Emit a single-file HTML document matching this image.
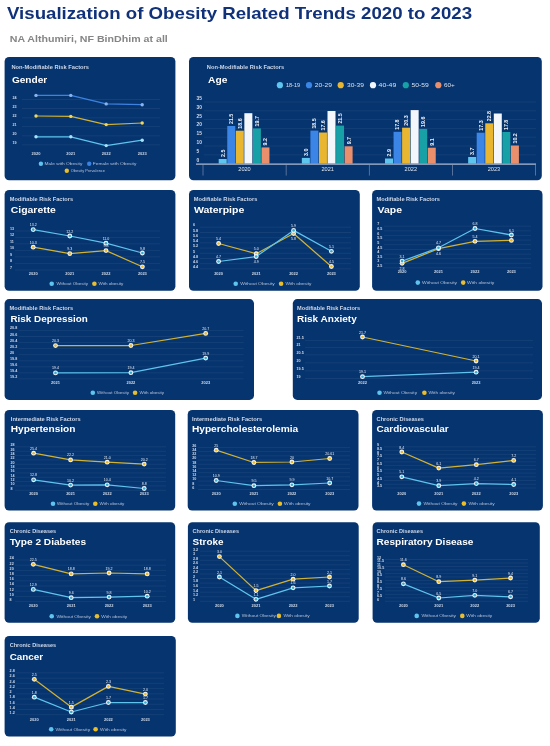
<!DOCTYPE html>
<html><head><meta charset="utf-8"><title>Visualization of Obesity Related Trends 2020 to 2023</title>
<style>html,body{margin:0;padding:0;background:#fff;width:550px;height:746px;overflow:hidden;font-family:"Liberation Sans",sans-serif}svg{display:block;will-change:transform}</style>
</head><body>
<svg width="550" height="746" viewBox="0 0 550 746" font-family="&quot;Liberation Sans&quot;, sans-serif">
<rect width="550" height="746" fill="#ffffff"/>
<text x="7.00" y="18.60" font-size="16.4" fill="#10327a" font-weight="bold" textLength="465.00" lengthAdjust="spacingAndGlyphs">Visualization of Obesity Related Trends 2020 to 2023</text>
<text x="9.80" y="42.00" font-size="9.6" fill="#858585" font-weight="bold" textLength="158.00" lengthAdjust="spacingAndGlyphs">NA Althumiri, NF BinDhim at all</text>
<rect x="4.6" y="57" width="170.8" height="123.3" rx="4.5" fill="#06346f"/>
<text x="11.40" y="68.90" font-size="5.6" fill="#cdd6e6" font-weight="bold" textLength="77.60" lengthAdjust="spacingAndGlyphs">Non-Modifiable Risk Factors</text>
<text x="11.90" y="82.50" font-size="9.4" fill="#ffffff" font-weight="bold" textLength="35.30" lengthAdjust="spacingAndGlyphs">Gender</text>
<text x="12.50" y="98.55" font-size="3.7" fill="#d0d9e8" font-weight="bold">24</text>
<text x="12.50" y="107.55" font-size="3.7" fill="#d0d9e8" font-weight="bold">23</text>
<text x="12.50" y="116.85" font-size="3.7" fill="#d0d9e8" font-weight="bold">22</text>
<text x="12.50" y="125.85" font-size="3.7" fill="#d0d9e8" font-weight="bold">21</text>
<text x="12.50" y="134.85" font-size="3.7" fill="#d0d9e8" font-weight="bold">20</text>
<text x="12.50" y="143.85" font-size="3.7" fill="#d0d9e8" font-weight="bold">19</text>
<line x1="22" y1="99.50" x2="160" y2="99.50" stroke="rgba(255,255,255,0.10)" stroke-width="0.6"/>
<line x1="22" y1="108.50" x2="160" y2="108.50" stroke="rgba(255,255,255,0.10)" stroke-width="0.6"/>
<line x1="22" y1="117.80" x2="160" y2="117.80" stroke="rgba(255,255,255,0.10)" stroke-width="0.6"/>
<line x1="22" y1="126.60" x2="160" y2="126.60" stroke="rgba(255,255,255,0.10)" stroke-width="0.6"/>
<line x1="22" y1="135.90" x2="160" y2="135.90" stroke="rgba(255,255,255,0.10)" stroke-width="0.6"/>
<line x1="22" y1="144.80" x2="160" y2="144.80" stroke="rgba(255,255,255,0.10)" stroke-width="0.6"/>
<text x="36.00" y="154.95" font-size="4.0" fill="#d0d9e8" font-weight="bold" text-anchor="middle">2020</text>
<text x="70.80" y="154.95" font-size="4.0" fill="#d0d9e8" font-weight="bold" text-anchor="middle">2021</text>
<text x="106.20" y="154.95" font-size="4.0" fill="#d0d9e8" font-weight="bold" text-anchor="middle">2022</text>
<text x="142.20" y="154.95" font-size="4.0" fill="#d0d9e8" font-weight="bold" text-anchor="middle">2023</text>
<path d="M36.00,95.40 L70.80,95.40 L106.20,103.90 L142.20,104.70" fill="none" stroke="#3e82e0" stroke-width="1.2" stroke-linejoin="round"/>
<circle cx="36.00" cy="95.40" r="1.7" fill="#8ab4f0"/>
<circle cx="70.80" cy="95.40" r="1.7" fill="#8ab4f0"/>
<circle cx="106.20" cy="103.90" r="1.7" fill="#8ab4f0"/>
<circle cx="142.20" cy="104.70" r="1.7" fill="#8ab4f0"/>
<path d="M36.00,116.00 L70.80,116.40 L106.20,124.60 L142.20,123.00" fill="none" stroke="#d2b234" stroke-width="1.2" stroke-linejoin="round"/>
<circle cx="36.00" cy="116.00" r="1.7" fill="#f0d860"/>
<circle cx="70.80" cy="116.40" r="1.7" fill="#f0d860"/>
<circle cx="106.20" cy="124.60" r="1.7" fill="#f0d860"/>
<circle cx="142.20" cy="123.00" r="1.7" fill="#f0d860"/>
<path d="M36.00,136.80 L70.80,136.80 L106.20,145.60 L142.20,140.20" fill="none" stroke="#5ec4ee" stroke-width="1.2" stroke-linejoin="round"/>
<circle cx="36.00" cy="136.80" r="1.7" fill="#a8e2f8"/>
<circle cx="70.80" cy="136.80" r="1.7" fill="#a8e2f8"/>
<circle cx="106.20" cy="145.60" r="1.7" fill="#a8e2f8"/>
<circle cx="142.20" cy="140.20" r="1.7" fill="#a8e2f8"/>
<circle cx="40.90" cy="163.80" r="2.2" fill="#5ec4ee"/>
<text x="44.60" y="165.35" font-size="4.3" fill="#b4c0d6" textLength="37.70" lengthAdjust="spacingAndGlyphs">Male with Obesity</text>
<circle cx="89.20" cy="163.80" r="2.2" fill="#3e82e0"/>
<text x="92.80" y="165.35" font-size="4.3" fill="#b4c0d6" textLength="43.50" lengthAdjust="spacingAndGlyphs">Female with Obesity</text>
<circle cx="66.80" cy="170.70" r="2.2" fill="#e9bd2b"/>
<text x="70.80" y="172.25" font-size="4.3" fill="#b4c0d6" textLength="34.20" lengthAdjust="spacingAndGlyphs">Obesity Prevalence</text>
<rect x="189" y="57" width="352.8" height="123.3" rx="4.5" fill="#06346f"/>
<text x="206.80" y="68.90" font-size="5.6" fill="#cdd6e6" font-weight="bold" textLength="77.30" lengthAdjust="spacingAndGlyphs">Non-Modifiable Risk Factors</text>
<text x="208.10" y="82.50" font-size="9.4" fill="#ffffff" font-weight="bold" textLength="19.30" lengthAdjust="spacingAndGlyphs">Age</text>
<circle cx="279.90" cy="85.20" r="3.1" fill="#5ec6ee"/>
<text x="285.90" y="86.75" font-size="5.6" fill="#d8e0ec" textLength="14.20" lengthAdjust="spacingAndGlyphs">18-19</text>
<circle cx="309.00" cy="85.20" r="3.1" fill="#3a85e6"/>
<text x="314.80" y="86.75" font-size="5.6" fill="#d8e0ec" textLength="17.10" lengthAdjust="spacingAndGlyphs">20-29</text>
<circle cx="340.70" cy="85.20" r="3.1" fill="#e8b631"/>
<text x="347.00" y="86.75" font-size="5.6" fill="#d8e0ec" textLength="16.90" lengthAdjust="spacingAndGlyphs">30-39</text>
<circle cx="373.00" cy="85.20" r="3.1" fill="#f3f6fa"/>
<text x="378.60" y="86.75" font-size="5.6" fill="#d8e0ec" textLength="17.70" lengthAdjust="spacingAndGlyphs">40-49</text>
<circle cx="405.80" cy="85.20" r="3.1" fill="#17a0a6"/>
<text x="411.50" y="86.75" font-size="5.6" fill="#d8e0ec" textLength="17.20" lengthAdjust="spacingAndGlyphs">50-59</text>
<circle cx="438.30" cy="85.20" r="3.1" fill="#e98f6b"/>
<text x="444.00" y="86.75" font-size="5.6" fill="#d8e0ec" textLength="10.80" lengthAdjust="spacingAndGlyphs">60+</text>
<text x="196.60" y="100.30" font-size="5.7" fill="#d3dbe8" font-weight="bold" textLength="5.40" lengthAdjust="spacingAndGlyphs">35</text>
<text x="196.60" y="109.00" font-size="5.7" fill="#d3dbe8" font-weight="bold" textLength="5.40" lengthAdjust="spacingAndGlyphs">30</text>
<text x="196.60" y="117.70" font-size="5.7" fill="#d3dbe8" font-weight="bold" textLength="5.40" lengthAdjust="spacingAndGlyphs">25</text>
<text x="196.60" y="126.40" font-size="5.7" fill="#d3dbe8" font-weight="bold" textLength="5.40" lengthAdjust="spacingAndGlyphs">20</text>
<text x="196.60" y="135.40" font-size="5.7" fill="#d3dbe8" font-weight="bold" textLength="5.40" lengthAdjust="spacingAndGlyphs">15</text>
<text x="196.60" y="144.20" font-size="5.7" fill="#d3dbe8" font-weight="bold" textLength="5.40" lengthAdjust="spacingAndGlyphs">10</text>
<text x="196.60" y="152.80" font-size="5.7" fill="#d3dbe8" font-weight="bold" textLength="2.70" lengthAdjust="spacingAndGlyphs">5</text>
<text x="196.60" y="161.90" font-size="5.7" fill="#d3dbe8" font-weight="bold" textLength="2.70" lengthAdjust="spacingAndGlyphs">0</text>
<line x1="204" y1="102.00" x2="536" y2="102.00" stroke="rgba(255,255,255,0.10)" stroke-width="0.6"/>
<line x1="204" y1="110.80" x2="536" y2="110.80" stroke="rgba(255,255,255,0.10)" stroke-width="0.6"/>
<line x1="204" y1="119.60" x2="536" y2="119.60" stroke="rgba(255,255,255,0.10)" stroke-width="0.6"/>
<line x1="204" y1="128.40" x2="536" y2="128.40" stroke="rgba(255,255,255,0.10)" stroke-width="0.6"/>
<line x1="204" y1="137.20" x2="536" y2="137.20" stroke="rgba(255,255,255,0.10)" stroke-width="0.6"/>
<line x1="204" y1="146.00" x2="536" y2="146.00" stroke="rgba(255,255,255,0.10)" stroke-width="0.6"/>
<line x1="204" y1="154.80" x2="536" y2="154.80" stroke="rgba(255,255,255,0.10)" stroke-width="0.6"/>
<rect x="218.70" y="159.00" width="8.0" height="4.60" fill="#5ec6ee"/>
<text transform="translate(224.60,157.00) rotate(-90)" font-size="5.3" fill="#eef2f8" font-weight="bold">2.5</text>
<rect x="227.25" y="126.00" width="8.0" height="37.60" fill="#3a85e6"/>
<text transform="translate(233.15,124.00) rotate(-90)" font-size="5.3" fill="#eef2f8" font-weight="bold">21.5</text>
<rect x="235.80" y="130.70" width="8.0" height="32.90" fill="#e8b631"/>
<text transform="translate(241.70,128.70) rotate(-90)" font-size="5.3" fill="#eef2f8" font-weight="bold">18.6</text>
<rect x="244.35" y="113.20" width="8.0" height="50.40" fill="#f3f6fa"/>
<rect x="252.90" y="128.40" width="8.0" height="35.20" fill="#17a0a6"/>
<text transform="translate(258.80,126.40) rotate(-90)" font-size="5.3" fill="#eef2f8" font-weight="bold">19.7</text>
<rect x="261.45" y="147.40" width="8.0" height="16.20" fill="#e98f6b"/>
<text transform="translate(267.35,145.40) rotate(-90)" font-size="5.3" fill="#eef2f8" font-weight="bold">9.2</text>
<rect x="301.85" y="157.90" width="8.0" height="5.70" fill="#5ec6ee"/>
<text transform="translate(307.75,155.90) rotate(-90)" font-size="5.3" fill="#eef2f8" font-weight="bold">3.0</text>
<rect x="310.40" y="130.60" width="8.0" height="33.00" fill="#3a85e6"/>
<text transform="translate(316.30,128.60) rotate(-90)" font-size="5.3" fill="#eef2f8" font-weight="bold">18.5</text>
<rect x="318.95" y="132.50" width="8.0" height="31.10" fill="#e8b631"/>
<text transform="translate(324.85,130.50) rotate(-90)" font-size="5.3" fill="#eef2f8" font-weight="bold">17.6</text>
<rect x="327.50" y="111.00" width="8.0" height="52.60" fill="#f3f6fa"/>
<rect x="336.05" y="125.60" width="8.0" height="38.00" fill="#17a0a6"/>
<text transform="translate(341.95,123.60) rotate(-90)" font-size="5.3" fill="#eef2f8" font-weight="bold">21.5</text>
<rect x="344.60" y="146.30" width="8.0" height="17.30" fill="#e98f6b"/>
<text transform="translate(350.50,144.30) rotate(-90)" font-size="5.3" fill="#eef2f8" font-weight="bold">9.7</text>
<rect x="385.00" y="158.50" width="8.0" height="5.10" fill="#5ec6ee"/>
<text transform="translate(390.90,156.50) rotate(-90)" font-size="5.3" fill="#eef2f8" font-weight="bold">2.9</text>
<rect x="393.55" y="131.80" width="8.0" height="31.80" fill="#3a85e6"/>
<text transform="translate(399.45,129.80) rotate(-90)" font-size="5.3" fill="#eef2f8" font-weight="bold">17.8</text>
<rect x="402.10" y="127.70" width="8.0" height="35.90" fill="#e8b631"/>
<text transform="translate(408.00,125.70) rotate(-90)" font-size="5.3" fill="#eef2f8" font-weight="bold">20.3</text>
<rect x="410.65" y="110.10" width="8.0" height="53.50" fill="#f3f6fa"/>
<rect x="419.20" y="128.90" width="8.0" height="34.70" fill="#17a0a6"/>
<text transform="translate(425.10,126.90) rotate(-90)" font-size="5.3" fill="#eef2f8" font-weight="bold">19.6</text>
<rect x="427.75" y="147.70" width="8.0" height="15.90" fill="#e98f6b"/>
<text transform="translate(433.65,145.70) rotate(-90)" font-size="5.3" fill="#eef2f8" font-weight="bold">9.1</text>
<rect x="468.15" y="157.00" width="8.0" height="6.60" fill="#5ec6ee"/>
<text transform="translate(474.05,155.00) rotate(-90)" font-size="5.3" fill="#eef2f8" font-weight="bold">3.7</text>
<rect x="476.70" y="132.70" width="8.0" height="30.90" fill="#3a85e6"/>
<text transform="translate(482.60,130.70) rotate(-90)" font-size="5.3" fill="#eef2f8" font-weight="bold">17.3</text>
<rect x="485.25" y="123.30" width="8.0" height="40.30" fill="#e8b631"/>
<text transform="translate(491.15,121.30) rotate(-90)" font-size="5.3" fill="#eef2f8" font-weight="bold">22.8</text>
<rect x="493.80" y="113.50" width="8.0" height="50.10" fill="#f3f6fa"/>
<rect x="502.35" y="132.00" width="8.0" height="31.60" fill="#17a0a6"/>
<text transform="translate(508.25,130.00) rotate(-90)" font-size="5.3" fill="#eef2f8" font-weight="bold">17.8</text>
<rect x="510.90" y="145.50" width="8.0" height="18.10" fill="#e98f6b"/>
<text transform="translate(516.80,143.50) rotate(-90)" font-size="5.3" fill="#eef2f8" font-weight="bold">10.2</text>
<line x1="196" y1="164.1" x2="536" y2="164.1" stroke="#aebad0" stroke-width="1.2"/>
<line x1="203" y1="164.6" x2="203" y2="175.6" stroke="#8d9bb8" stroke-width="0.6"/>
<line x1="286.2" y1="164.6" x2="286.2" y2="175.6" stroke="#8d9bb8" stroke-width="0.6"/>
<line x1="369.4" y1="164.6" x2="369.4" y2="175.6" stroke="#8d9bb8" stroke-width="0.6"/>
<line x1="452.5" y1="164.6" x2="452.5" y2="175.6" stroke="#8d9bb8" stroke-width="0.6"/>
<line x1="535.5" y1="164.6" x2="535.5" y2="175.6" stroke="#8d9bb8" stroke-width="0.6"/>
<text x="244.50" y="171.00" font-size="5.6" fill="#dfe6f0" text-anchor="middle">2020</text>
<text x="327.65" y="171.00" font-size="5.6" fill="#dfe6f0" text-anchor="middle">2021</text>
<text x="410.80" y="171.00" font-size="5.6" fill="#dfe6f0" text-anchor="middle">2022</text>
<text x="493.95" y="171.00" font-size="5.6" fill="#dfe6f0" text-anchor="middle">2023</text>
<rect x="4.6" y="190" width="170.8" height="100.7" rx="4.5" fill="#06346f"/>
<text x="9.70" y="200.60" font-size="5.6" fill="#cdd6e6" font-weight="bold" textLength="63.40" lengthAdjust="spacingAndGlyphs">Modifiable Risk Factors</text>
<text x="10.80" y="213.00" font-size="9.4" fill="#ffffff" font-weight="bold" textLength="45.10" lengthAdjust="spacingAndGlyphs">Cigarette</text>
<text x="10.00" y="230.15" font-size="3.7" fill="#d0d9e8" font-weight="bold">13</text>
<text x="10.00" y="236.45" font-size="3.7" fill="#d0d9e8" font-weight="bold">12</text>
<text x="10.00" y="242.95" font-size="3.7" fill="#d0d9e8" font-weight="bold">11</text>
<text x="10.00" y="249.45" font-size="3.7" fill="#d0d9e8" font-weight="bold">10</text>
<text x="10.00" y="255.95" font-size="3.7" fill="#d0d9e8" font-weight="bold">9</text>
<text x="10.00" y="262.45" font-size="3.7" fill="#d0d9e8" font-weight="bold">8</text>
<text x="10.00" y="269.15" font-size="3.7" fill="#d0d9e8" font-weight="bold">7</text>
<line x1="15" y1="231.00" x2="160" y2="231.00" stroke="rgba(255,255,255,0.10)" stroke-width="0.6"/>
<line x1="15" y1="237.40" x2="160" y2="237.40" stroke="rgba(255,255,255,0.10)" stroke-width="0.6"/>
<line x1="15" y1="243.90" x2="160" y2="243.90" stroke="rgba(255,255,255,0.10)" stroke-width="0.6"/>
<line x1="15" y1="250.40" x2="160" y2="250.40" stroke="rgba(255,255,255,0.10)" stroke-width="0.6"/>
<line x1="15" y1="256.90" x2="160" y2="256.90" stroke="rgba(255,255,255,0.10)" stroke-width="0.6"/>
<line x1="15" y1="263.40" x2="160" y2="263.40" stroke="rgba(255,255,255,0.10)" stroke-width="0.6"/>
<line x1="15" y1="270.00" x2="160" y2="270.00" stroke="rgba(255,255,255,0.10)" stroke-width="0.6"/>
<text x="33.20" y="275.05" font-size="4.0" fill="#d0d9e8" font-weight="bold" text-anchor="middle">2020</text>
<text x="69.80" y="275.05" font-size="4.0" fill="#d0d9e8" font-weight="bold" text-anchor="middle">2021</text>
<text x="106.00" y="275.05" font-size="4.0" fill="#d0d9e8" font-weight="bold" text-anchor="middle">2022</text>
<text x="142.40" y="275.05" font-size="4.0" fill="#d0d9e8" font-weight="bold" text-anchor="middle">2023</text>
<path d="M33.20,247.20 L69.80,253.60 L106.00,250.60 L142.40,266.80" fill="none" stroke="#d2b234" stroke-width="1.25" stroke-linejoin="round"/>
<circle cx="33.20" cy="247.20" r="2.4" fill="#eef4fa"/>
<circle cx="33.20" cy="247.20" r="1.32" fill="#f0b81c"/>
<text x="33.20" y="243.70" font-size="3.6" fill="#e6ecf5" text-anchor="middle">10.3</text>
<circle cx="69.80" cy="253.60" r="2.4" fill="#eef4fa"/>
<circle cx="69.80" cy="253.60" r="1.32" fill="#f0b81c"/>
<text x="69.80" y="250.10" font-size="3.6" fill="#e6ecf5" text-anchor="middle">9.3</text>
<circle cx="106.00" cy="250.60" r="2.4" fill="#eef4fa"/>
<circle cx="106.00" cy="250.60" r="1.32" fill="#f0b81c"/>
<text x="106.00" y="247.10" font-size="3.6" fill="#e6ecf5" text-anchor="middle">9.8</text>
<circle cx="142.40" cy="266.80" r="2.4" fill="#eef4fa"/>
<circle cx="142.40" cy="266.80" r="1.32" fill="#f0b81c"/>
<text x="142.40" y="263.30" font-size="3.6" fill="#e6ecf5" text-anchor="middle">7.5</text>
<path d="M33.20,229.60 L69.80,236.00 L106.00,243.20 L142.40,253.00" fill="none" stroke="#5ec4ee" stroke-width="1.25" stroke-linejoin="round"/>
<circle cx="33.20" cy="229.60" r="2.4" fill="#eef4fa"/>
<circle cx="33.20" cy="229.60" r="1.32" fill="#34acd2"/>
<text x="33.20" y="226.10" font-size="3.6" fill="#e6ecf5" text-anchor="middle">13.2</text>
<circle cx="69.80" cy="236.00" r="2.4" fill="#eef4fa"/>
<circle cx="69.80" cy="236.00" r="1.32" fill="#34acd2"/>
<text x="69.80" y="232.50" font-size="3.6" fill="#e6ecf5" text-anchor="middle">12.2</text>
<circle cx="106.00" cy="243.20" r="2.4" fill="#eef4fa"/>
<circle cx="106.00" cy="243.20" r="1.32" fill="#34acd2"/>
<text x="106.00" y="239.70" font-size="3.6" fill="#e6ecf5" text-anchor="middle">11.0</text>
<circle cx="142.40" cy="253.00" r="2.4" fill="#eef4fa"/>
<circle cx="142.40" cy="253.00" r="1.32" fill="#34acd2"/>
<text x="142.40" y="249.50" font-size="3.6" fill="#e6ecf5" text-anchor="middle">9.8</text>
<circle cx="51.70" cy="283.80" r="2.3" fill="#5ec4ee"/>
<text x="56.40" y="285.35" font-size="4.3" fill="#b4c0d6" textLength="31.60" lengthAdjust="spacingAndGlyphs">Without Obesity</text>
<circle cx="94.40" cy="283.80" r="2.3" fill="#e9bd2b"/>
<text x="98.40" y="285.35" font-size="4.3" fill="#b4c0d6" textLength="24.80" lengthAdjust="spacingAndGlyphs">With obesity</text>
<rect x="189" y="190" width="170.8" height="100.7" rx="4.5" fill="#06346f"/>
<text x="193.70" y="200.60" font-size="5.6" fill="#cdd6e6" font-weight="bold" textLength="63.70" lengthAdjust="spacingAndGlyphs">Modifiable Risk Factors</text>
<text x="193.90" y="213.00" font-size="9.4" fill="#ffffff" font-weight="bold" textLength="50.40" lengthAdjust="spacingAndGlyphs">Waterpipe</text>
<text x="193.00" y="226.45" font-size="3.7" fill="#d0d9e8" font-weight="bold">6</text>
<text x="193.00" y="231.75" font-size="3.7" fill="#d0d9e8" font-weight="bold">5.8</text>
<text x="193.00" y="237.05" font-size="3.7" fill="#d0d9e8" font-weight="bold">5.6</text>
<text x="193.00" y="242.05" font-size="3.7" fill="#d0d9e8" font-weight="bold">5.4</text>
<text x="193.00" y="247.35" font-size="3.7" fill="#d0d9e8" font-weight="bold">5.2</text>
<text x="193.00" y="252.65" font-size="3.7" fill="#d0d9e8" font-weight="bold">5</text>
<text x="193.00" y="257.85" font-size="3.7" fill="#d0d9e8" font-weight="bold">4.8</text>
<text x="193.00" y="262.85" font-size="3.7" fill="#d0d9e8" font-weight="bold">4.6</text>
<text x="193.00" y="268.15" font-size="3.7" fill="#d0d9e8" font-weight="bold">4.4</text>
<line x1="200" y1="227.20" x2="351" y2="227.20" stroke="rgba(255,255,255,0.10)" stroke-width="0.6"/>
<line x1="200" y1="232.50" x2="351" y2="232.50" stroke="rgba(255,255,255,0.10)" stroke-width="0.6"/>
<line x1="200" y1="237.70" x2="351" y2="237.70" stroke="rgba(255,255,255,0.10)" stroke-width="0.6"/>
<line x1="200" y1="242.90" x2="351" y2="242.90" stroke="rgba(255,255,255,0.10)" stroke-width="0.6"/>
<line x1="200" y1="248.10" x2="351" y2="248.10" stroke="rgba(255,255,255,0.10)" stroke-width="0.6"/>
<line x1="200" y1="253.30" x2="351" y2="253.30" stroke="rgba(255,255,255,0.10)" stroke-width="0.6"/>
<line x1="200" y1="258.50" x2="351" y2="258.50" stroke="rgba(255,255,255,0.10)" stroke-width="0.6"/>
<line x1="200" y1="263.70" x2="351" y2="263.70" stroke="rgba(255,255,255,0.10)" stroke-width="0.6"/>
<line x1="200" y1="268.90" x2="351" y2="268.90" stroke="rgba(255,255,255,0.10)" stroke-width="0.6"/>
<text x="218.60" y="274.85" font-size="4.0" fill="#d0d9e8" font-weight="bold" text-anchor="middle">2020</text>
<text x="256.20" y="274.85" font-size="4.0" fill="#d0d9e8" font-weight="bold" text-anchor="middle">2021</text>
<text x="293.60" y="274.85" font-size="4.0" fill="#d0d9e8" font-weight="bold" text-anchor="middle">2022</text>
<text x="331.40" y="274.85" font-size="4.0" fill="#d0d9e8" font-weight="bold" text-anchor="middle">2023</text>
<path d="M218.60,243.50 L256.20,253.70 L293.60,233.50 L331.40,266.50" fill="none" stroke="#d2b234" stroke-width="1.25" stroke-linejoin="round"/>
<circle cx="218.60" cy="243.50" r="2.4" fill="#eef4fa"/>
<circle cx="218.60" cy="243.50" r="1.32" fill="#f0b81c"/>
<text x="218.60" y="240.00" font-size="3.6" fill="#e6ecf5" text-anchor="middle">5.4</text>
<circle cx="256.20" cy="253.70" r="2.4" fill="#eef4fa"/>
<circle cx="256.20" cy="253.70" r="1.32" fill="#f0b81c"/>
<text x="256.20" y="250.20" font-size="3.6" fill="#e6ecf5" text-anchor="middle">5.0</text>
<circle cx="293.60" cy="233.50" r="2.4" fill="#eef4fa"/>
<circle cx="293.60" cy="233.50" r="1.32" fill="#f0b81c"/>
<text x="293.60" y="240.00" font-size="3.6" fill="#e6ecf5" text-anchor="middle">5.8</text>
<circle cx="331.40" cy="266.50" r="2.4" fill="#eef4fa"/>
<circle cx="331.40" cy="266.50" r="1.32" fill="#f0b81c"/>
<text x="331.40" y="263.00" font-size="3.6" fill="#e6ecf5" text-anchor="middle">4.5</text>
<path d="M218.60,261.50 L256.20,256.50 L293.60,230.40 L331.40,251.30" fill="none" stroke="#5ec4ee" stroke-width="1.25" stroke-linejoin="round"/>
<circle cx="218.60" cy="261.50" r="2.4" fill="#eef4fa"/>
<circle cx="218.60" cy="261.50" r="1.32" fill="#34acd2"/>
<text x="218.60" y="258.00" font-size="3.6" fill="#e6ecf5" text-anchor="middle">4.7</text>
<circle cx="256.20" cy="256.50" r="2.4" fill="#eef4fa"/>
<circle cx="256.20" cy="256.50" r="1.32" fill="#34acd2"/>
<text x="256.20" y="263.00" font-size="3.6" fill="#e6ecf5" text-anchor="middle">4.9</text>
<circle cx="293.60" cy="230.40" r="2.4" fill="#eef4fa"/>
<circle cx="293.60" cy="230.40" r="1.32" fill="#34acd2"/>
<text x="293.60" y="226.90" font-size="3.6" fill="#e6ecf5" text-anchor="middle">5.9</text>
<circle cx="331.40" cy="251.30" r="2.4" fill="#eef4fa"/>
<circle cx="331.40" cy="251.30" r="1.32" fill="#34acd2"/>
<text x="331.40" y="247.80" font-size="3.6" fill="#e6ecf5" text-anchor="middle">5.1</text>
<circle cx="235.70" cy="283.80" r="2.3" fill="#5ec4ee"/>
<text x="240.20" y="285.35" font-size="4.3" fill="#b4c0d6" textLength="34.50" lengthAdjust="spacingAndGlyphs">Without Obesity</text>
<circle cx="281.10" cy="283.80" r="2.3" fill="#e9bd2b"/>
<text x="285.40" y="285.35" font-size="4.3" fill="#b4c0d6" textLength="26.00" lengthAdjust="spacingAndGlyphs">With obesity</text>
<rect x="372.1" y="190" width="170.4" height="100.7" rx="4.5" fill="#06346f"/>
<text x="376.60" y="200.60" font-size="5.6" fill="#cdd6e6" font-weight="bold" textLength="63.40" lengthAdjust="spacingAndGlyphs">Modifiable Risk Factors</text>
<text x="377.60" y="213.00" font-size="9.4" fill="#ffffff" font-weight="bold" textLength="24.40" lengthAdjust="spacingAndGlyphs">Vape</text>
<text x="377.20" y="225.35" font-size="3.7" fill="#d0d9e8" font-weight="bold">7</text>
<text x="377.20" y="229.95" font-size="3.7" fill="#d0d9e8" font-weight="bold">6.5</text>
<text x="377.20" y="234.55" font-size="3.7" fill="#d0d9e8" font-weight="bold">6</text>
<text x="377.20" y="239.25" font-size="3.7" fill="#d0d9e8" font-weight="bold">5.5</text>
<text x="377.20" y="243.85" font-size="3.7" fill="#d0d9e8" font-weight="bold">5</text>
<text x="377.20" y="248.65" font-size="3.7" fill="#d0d9e8" font-weight="bold">4.5</text>
<text x="377.20" y="253.35" font-size="3.7" fill="#d0d9e8" font-weight="bold">4</text>
<text x="377.20" y="257.85" font-size="3.7" fill="#d0d9e8" font-weight="bold">3.5</text>
<text x="377.20" y="262.45" font-size="3.7" fill="#d0d9e8" font-weight="bold">3</text>
<text x="377.20" y="267.05" font-size="3.7" fill="#d0d9e8" font-weight="bold">2.5</text>
<line x1="384" y1="226.20" x2="531" y2="226.20" stroke="rgba(255,255,255,0.10)" stroke-width="0.6"/>
<line x1="384" y1="230.80" x2="531" y2="230.80" stroke="rgba(255,255,255,0.10)" stroke-width="0.6"/>
<line x1="384" y1="235.40" x2="531" y2="235.40" stroke="rgba(255,255,255,0.10)" stroke-width="0.6"/>
<line x1="384" y1="240.10" x2="531" y2="240.10" stroke="rgba(255,255,255,0.10)" stroke-width="0.6"/>
<line x1="384" y1="244.70" x2="531" y2="244.70" stroke="rgba(255,255,255,0.10)" stroke-width="0.6"/>
<line x1="384" y1="249.50" x2="531" y2="249.50" stroke="rgba(255,255,255,0.10)" stroke-width="0.6"/>
<line x1="384" y1="254.20" x2="531" y2="254.20" stroke="rgba(255,255,255,0.10)" stroke-width="0.6"/>
<line x1="384" y1="258.70" x2="531" y2="258.70" stroke="rgba(255,255,255,0.10)" stroke-width="0.6"/>
<line x1="384" y1="263.30" x2="531" y2="263.30" stroke="rgba(255,255,255,0.10)" stroke-width="0.6"/>
<line x1="384" y1="267.90" x2="531" y2="267.90" stroke="rgba(255,255,255,0.10)" stroke-width="0.6"/>
<text x="402.10" y="273.45" font-size="4.0" fill="#d0d9e8" font-weight="bold" text-anchor="middle">2020</text>
<text x="438.50" y="273.45" font-size="4.0" fill="#d0d9e8" font-weight="bold" text-anchor="middle">2021</text>
<text x="475.00" y="273.45" font-size="4.0" fill="#d0d9e8" font-weight="bold" text-anchor="middle">2022</text>
<text x="511.40" y="273.45" font-size="4.0" fill="#d0d9e8" font-weight="bold" text-anchor="middle">2023</text>
<path d="M402.10,263.30 L438.50,248.70 L475.00,241.30 L511.40,240.40" fill="none" stroke="#d2b234" stroke-width="1.25" stroke-linejoin="round"/>
<circle cx="402.10" cy="263.30" r="2.4" fill="#eef4fa"/>
<circle cx="402.10" cy="263.30" r="1.32" fill="#f0b81c"/>
<text x="402.10" y="269.80" font-size="3.6" fill="#e6ecf5" text-anchor="middle">2.8</text>
<circle cx="438.50" cy="248.70" r="2.4" fill="#eef4fa"/>
<circle cx="438.50" cy="248.70" r="1.32" fill="#f0b81c"/>
<text x="438.50" y="255.20" font-size="3.6" fill="#e6ecf5" text-anchor="middle">4.6</text>
<circle cx="475.00" cy="241.30" r="2.4" fill="#eef4fa"/>
<circle cx="475.00" cy="241.30" r="1.32" fill="#f0b81c"/>
<text x="475.00" y="237.80" font-size="3.6" fill="#e6ecf5" text-anchor="middle">5.4</text>
<circle cx="511.40" cy="240.40" r="2.4" fill="#eef4fa"/>
<circle cx="511.40" cy="240.40" r="1.32" fill="#f0b81c"/>
<path d="M402.10,261.10 L438.50,247.80 L475.00,228.50 L511.40,235.00" fill="none" stroke="#5ec4ee" stroke-width="1.25" stroke-linejoin="round"/>
<circle cx="402.10" cy="261.10" r="2.4" fill="#eef4fa"/>
<circle cx="402.10" cy="261.10" r="1.32" fill="#34acd2"/>
<text x="402.10" y="257.60" font-size="3.6" fill="#e6ecf5" text-anchor="middle">3.1</text>
<circle cx="438.50" cy="247.80" r="2.4" fill="#eef4fa"/>
<circle cx="438.50" cy="247.80" r="1.32" fill="#34acd2"/>
<text x="438.50" y="244.30" font-size="3.6" fill="#e6ecf5" text-anchor="middle">4.7</text>
<circle cx="475.00" cy="228.50" r="2.4" fill="#eef4fa"/>
<circle cx="475.00" cy="228.50" r="1.32" fill="#34acd2"/>
<text x="475.00" y="225.00" font-size="3.6" fill="#e6ecf5" text-anchor="middle">6.8</text>
<circle cx="511.40" cy="235.00" r="2.4" fill="#eef4fa"/>
<circle cx="511.40" cy="235.00" r="1.32" fill="#34acd2"/>
<text x="511.40" y="231.50" font-size="3.6" fill="#e6ecf5" text-anchor="middle">6.1</text>
<circle cx="417.80" cy="282.60" r="2.3" fill="#5ec4ee"/>
<text x="422.10" y="284.15" font-size="4.3" fill="#b4c0d6" textLength="34.90" lengthAdjust="spacingAndGlyphs">Without Obesity</text>
<circle cx="463.20" cy="282.60" r="2.3" fill="#e9bd2b"/>
<text x="467.00" y="284.15" font-size="4.3" fill="#b4c0d6" textLength="27.30" lengthAdjust="spacingAndGlyphs">With obesity</text>
<rect x="4.6" y="299.1" width="249.4" height="100.8" rx="4.5" fill="#06346f"/>
<text x="9.50" y="309.60" font-size="5.6" fill="#cdd6e6" font-weight="bold" textLength="63.70" lengthAdjust="spacingAndGlyphs">Modifiable Risk Factors</text>
<text x="10.50" y="321.80" font-size="9.4" fill="#ffffff" font-weight="bold" textLength="77.20" lengthAdjust="spacingAndGlyphs">Risk Depression</text>
<text x="10.00" y="329.45" font-size="3.7" fill="#d0d9e8" font-weight="bold">20.8</text>
<text x="10.00" y="335.55" font-size="3.7" fill="#d0d9e8" font-weight="bold">20.6</text>
<text x="10.00" y="341.75" font-size="3.7" fill="#d0d9e8" font-weight="bold">20.4</text>
<text x="10.00" y="347.65" font-size="3.7" fill="#d0d9e8" font-weight="bold">20.2</text>
<text x="10.00" y="353.75" font-size="3.7" fill="#d0d9e8" font-weight="bold">20</text>
<text x="10.00" y="359.85" font-size="3.7" fill="#d0d9e8" font-weight="bold">19.8</text>
<text x="10.00" y="365.85" font-size="3.7" fill="#d0d9e8" font-weight="bold">19.6</text>
<text x="10.00" y="371.95" font-size="3.7" fill="#d0d9e8" font-weight="bold">19.4</text>
<text x="10.00" y="377.65" font-size="3.7" fill="#d0d9e8" font-weight="bold">19.2</text>
<line x1="18.6" y1="330.40" x2="243.6" y2="330.40" stroke="rgba(255,255,255,0.10)" stroke-width="0.6"/>
<line x1="18.6" y1="336.50" x2="243.6" y2="336.50" stroke="rgba(255,255,255,0.10)" stroke-width="0.6"/>
<line x1="18.6" y1="342.60" x2="243.6" y2="342.60" stroke="rgba(255,255,255,0.10)" stroke-width="0.6"/>
<line x1="18.6" y1="348.60" x2="243.6" y2="348.60" stroke="rgba(255,255,255,0.10)" stroke-width="0.6"/>
<line x1="18.6" y1="354.70" x2="243.6" y2="354.70" stroke="rgba(255,255,255,0.10)" stroke-width="0.6"/>
<line x1="18.6" y1="360.80" x2="243.6" y2="360.80" stroke="rgba(255,255,255,0.10)" stroke-width="0.6"/>
<line x1="18.6" y1="366.80" x2="243.6" y2="366.80" stroke="rgba(255,255,255,0.10)" stroke-width="0.6"/>
<line x1="18.6" y1="372.90" x2="243.6" y2="372.90" stroke="rgba(255,255,255,0.10)" stroke-width="0.6"/>
<line x1="18.6" y1="378.90" x2="243.6" y2="378.90" stroke="rgba(255,255,255,0.10)" stroke-width="0.6"/>
<text x="55.50" y="383.85" font-size="4.0" fill="#d0d9e8" font-weight="bold" text-anchor="middle">2021</text>
<text x="130.90" y="383.85" font-size="4.0" fill="#d0d9e8" font-weight="bold" text-anchor="middle">2022</text>
<text x="205.70" y="383.85" font-size="4.0" fill="#d0d9e8" font-weight="bold" text-anchor="middle">2023</text>
<path d="M55.50,345.60 L130.90,345.50 L205.70,333.40" fill="none" stroke="#d2b234" stroke-width="1.25" stroke-linejoin="round"/>
<circle cx="55.50" cy="345.60" r="2.4" fill="#eef4fa"/>
<circle cx="55.50" cy="345.60" r="1.32" fill="#f0b81c"/>
<text x="55.50" y="342.10" font-size="3.6" fill="#e6ecf5" text-anchor="middle">20.3</text>
<circle cx="130.90" cy="345.50" r="2.4" fill="#eef4fa"/>
<circle cx="130.90" cy="345.50" r="1.32" fill="#f0b81c"/>
<text x="130.90" y="342.00" font-size="3.6" fill="#e6ecf5" text-anchor="middle">20.3</text>
<circle cx="205.70" cy="333.40" r="2.4" fill="#eef4fa"/>
<circle cx="205.70" cy="333.40" r="1.32" fill="#f0b81c"/>
<text x="205.70" y="329.90" font-size="3.6" fill="#e6ecf5" text-anchor="middle">20.7</text>
<path d="M55.50,372.90 L130.90,372.70 L205.70,358.10" fill="none" stroke="#5ec4ee" stroke-width="1.25" stroke-linejoin="round"/>
<circle cx="55.50" cy="372.90" r="2.4" fill="#eef4fa"/>
<circle cx="55.50" cy="372.90" r="1.32" fill="#34acd2"/>
<text x="55.50" y="369.40" font-size="3.6" fill="#e6ecf5" text-anchor="middle">19.4</text>
<circle cx="130.90" cy="372.70" r="2.4" fill="#eef4fa"/>
<circle cx="130.90" cy="372.70" r="1.32" fill="#34acd2"/>
<text x="130.90" y="369.20" font-size="3.6" fill="#e6ecf5" text-anchor="middle">19.4</text>
<circle cx="205.70" cy="358.10" r="2.4" fill="#eef4fa"/>
<circle cx="205.70" cy="358.10" r="1.32" fill="#34acd2"/>
<text x="205.70" y="354.60" font-size="3.6" fill="#e6ecf5" text-anchor="middle">19.9</text>
<circle cx="92.80" cy="392.80" r="2.3" fill="#5ec4ee"/>
<text x="97.10" y="394.35" font-size="4.3" fill="#b4c0d6" textLength="31.90" lengthAdjust="spacingAndGlyphs">Without Obesity</text>
<circle cx="135.10" cy="392.80" r="2.3" fill="#e9bd2b"/>
<text x="139.40" y="394.35" font-size="4.3" fill="#b4c0d6" textLength="24.70" lengthAdjust="spacingAndGlyphs">With obesity</text>
<rect x="292.8" y="299.1" width="249.2" height="100.8" rx="4.5" fill="#06346f"/>
<text x="297.00" y="309.60" font-size="5.6" fill="#cdd6e6" font-weight="bold" textLength="63.20" lengthAdjust="spacingAndGlyphs">Modifiable Risk Factors</text>
<text x="297.00" y="321.80" font-size="9.4" fill="#ffffff" font-weight="bold" textLength="59.80" lengthAdjust="spacingAndGlyphs">Risk Anxiety</text>
<text x="296.50" y="338.95" font-size="3.7" fill="#d0d9e8" font-weight="bold">21.5</text>
<text x="296.50" y="346.45" font-size="3.7" fill="#d0d9e8" font-weight="bold">21</text>
<text x="296.50" y="354.25" font-size="3.7" fill="#d0d9e8" font-weight="bold">20.5</text>
<text x="296.50" y="361.75" font-size="3.7" fill="#d0d9e8" font-weight="bold">20</text>
<text x="296.50" y="369.65" font-size="3.7" fill="#d0d9e8" font-weight="bold">19.5</text>
<text x="296.50" y="377.65" font-size="3.7" fill="#d0d9e8" font-weight="bold">19</text>
<line x1="305" y1="340.40" x2="533" y2="340.40" stroke="rgba(255,255,255,0.10)" stroke-width="0.6"/>
<line x1="305" y1="347.60" x2="533" y2="347.60" stroke="rgba(255,255,255,0.10)" stroke-width="0.6"/>
<line x1="305" y1="354.90" x2="533" y2="354.90" stroke="rgba(255,255,255,0.10)" stroke-width="0.6"/>
<line x1="305" y1="362.80" x2="533" y2="362.80" stroke="rgba(255,255,255,0.10)" stroke-width="0.6"/>
<line x1="305" y1="370.80" x2="533" y2="370.80" stroke="rgba(255,255,255,0.10)" stroke-width="0.6"/>
<line x1="305" y1="378.50" x2="533" y2="378.50" stroke="rgba(255,255,255,0.10)" stroke-width="0.6"/>
<text x="362.50" y="383.85" font-size="4.0" fill="#d0d9e8" font-weight="bold" text-anchor="middle">2022</text>
<text x="476.10" y="383.85" font-size="4.0" fill="#d0d9e8" font-weight="bold" text-anchor="middle">2023</text>
<path d="M362.50,337.00 L476.10,361.00" fill="none" stroke="#d2b234" stroke-width="1.25" stroke-linejoin="round"/>
<circle cx="362.50" cy="337.00" r="2.4" fill="#eef4fa"/>
<circle cx="362.50" cy="337.00" r="1.32" fill="#f0b81c"/>
<text x="362.50" y="333.50" font-size="3.6" fill="#e6ecf5" text-anchor="middle">21.7</text>
<circle cx="476.10" cy="361.00" r="2.4" fill="#eef4fa"/>
<circle cx="476.10" cy="361.00" r="1.32" fill="#f0b81c"/>
<text x="476.10" y="357.50" font-size="3.6" fill="#e6ecf5" text-anchor="middle">20.1</text>
<path d="M362.50,376.70 L476.10,372.20" fill="none" stroke="#5ec4ee" stroke-width="1.25" stroke-linejoin="round"/>
<circle cx="362.50" cy="376.70" r="2.4" fill="#eef4fa"/>
<circle cx="362.50" cy="376.70" r="1.32" fill="#34acd2"/>
<text x="362.50" y="373.20" font-size="3.6" fill="#e6ecf5" text-anchor="middle">19.1</text>
<circle cx="476.10" cy="372.20" r="2.4" fill="#eef4fa"/>
<circle cx="476.10" cy="372.20" r="1.32" fill="#34acd2"/>
<text x="476.10" y="368.70" font-size="3.6" fill="#e6ecf5" text-anchor="middle">19.4</text>
<circle cx="379.50" cy="392.80" r="2.3" fill="#5ec4ee"/>
<text x="383.50" y="394.35" font-size="4.3" fill="#b4c0d6" textLength="33.50" lengthAdjust="spacingAndGlyphs">Without Obesity</text>
<circle cx="424.40" cy="392.80" r="2.3" fill="#e9bd2b"/>
<text x="428.40" y="394.35" font-size="4.3" fill="#b4c0d6" textLength="26.60" lengthAdjust="spacingAndGlyphs">With obesity</text>
<rect x="4.6" y="410" width="170.6" height="100.5" rx="4.5" fill="#06346f"/>
<text x="10.80" y="420.60" font-size="5.6" fill="#cdd6e6" font-weight="bold" textLength="69.80" lengthAdjust="spacingAndGlyphs">Intermediate Risk Factors</text>
<text x="10.80" y="431.80" font-size="9.4" fill="#ffffff" font-weight="bold" textLength="64.70" lengthAdjust="spacingAndGlyphs">Hypertension</text>
<text x="10.40" y="446.25" font-size="3.7" fill="#d0d9e8" font-weight="bold">28</text>
<text x="10.40" y="450.59" font-size="3.7" fill="#d0d9e8" font-weight="bold">26</text>
<text x="10.40" y="454.93" font-size="3.7" fill="#d0d9e8" font-weight="bold">24</text>
<text x="10.40" y="459.27" font-size="3.7" fill="#d0d9e8" font-weight="bold">22</text>
<text x="10.40" y="463.61" font-size="3.7" fill="#d0d9e8" font-weight="bold">20</text>
<text x="10.40" y="467.95" font-size="3.7" fill="#d0d9e8" font-weight="bold">18</text>
<text x="10.40" y="472.29" font-size="3.7" fill="#d0d9e8" font-weight="bold">16</text>
<text x="10.40" y="476.63" font-size="3.7" fill="#d0d9e8" font-weight="bold">14</text>
<text x="10.40" y="480.97" font-size="3.7" fill="#d0d9e8" font-weight="bold">12</text>
<text x="10.40" y="485.31" font-size="3.7" fill="#d0d9e8" font-weight="bold">10</text>
<text x="10.40" y="489.65" font-size="3.7" fill="#d0d9e8" font-weight="bold">8</text>
<line x1="15" y1="446.90" x2="166" y2="446.90" stroke="rgba(255,255,255,0.10)" stroke-width="0.6"/>
<line x1="15" y1="451.24" x2="166" y2="451.24" stroke="rgba(255,255,255,0.10)" stroke-width="0.6"/>
<line x1="15" y1="455.58" x2="166" y2="455.58" stroke="rgba(255,255,255,0.10)" stroke-width="0.6"/>
<line x1="15" y1="459.92" x2="166" y2="459.92" stroke="rgba(255,255,255,0.10)" stroke-width="0.6"/>
<line x1="15" y1="464.26" x2="166" y2="464.26" stroke="rgba(255,255,255,0.10)" stroke-width="0.6"/>
<line x1="15" y1="468.60" x2="166" y2="468.60" stroke="rgba(255,255,255,0.10)" stroke-width="0.6"/>
<line x1="15" y1="472.94" x2="166" y2="472.94" stroke="rgba(255,255,255,0.10)" stroke-width="0.6"/>
<line x1="15" y1="477.28" x2="166" y2="477.28" stroke="rgba(255,255,255,0.10)" stroke-width="0.6"/>
<line x1="15" y1="481.62" x2="166" y2="481.62" stroke="rgba(255,255,255,0.10)" stroke-width="0.6"/>
<line x1="15" y1="485.96" x2="166" y2="485.96" stroke="rgba(255,255,255,0.10)" stroke-width="0.6"/>
<line x1="15" y1="490.30" x2="166" y2="490.30" stroke="rgba(255,255,255,0.10)" stroke-width="0.6"/>
<text x="33.60" y="495.05" font-size="4.0" fill="#d0d9e8" font-weight="bold" text-anchor="middle">2020</text>
<text x="70.60" y="495.05" font-size="4.0" fill="#d0d9e8" font-weight="bold" text-anchor="middle">2021</text>
<text x="107.20" y="495.05" font-size="4.0" fill="#d0d9e8" font-weight="bold" text-anchor="middle">2022</text>
<text x="144.20" y="495.05" font-size="4.0" fill="#d0d9e8" font-weight="bold" text-anchor="middle">2023</text>
<path d="M33.60,453.20 L70.60,459.90 L107.20,462.20 L144.20,464.10" fill="none" stroke="#d2b234" stroke-width="1.25" stroke-linejoin="round"/>
<circle cx="33.60" cy="453.20" r="2.4" fill="#eef4fa"/>
<circle cx="33.60" cy="453.20" r="1.32" fill="#f0b81c"/>
<text x="33.60" y="449.70" font-size="3.6" fill="#e6ecf5" text-anchor="middle">25.4</text>
<circle cx="70.60" cy="459.90" r="2.4" fill="#eef4fa"/>
<circle cx="70.60" cy="459.90" r="1.32" fill="#f0b81c"/>
<text x="70.60" y="456.40" font-size="3.6" fill="#e6ecf5" text-anchor="middle">22.2</text>
<circle cx="107.20" cy="462.20" r="2.4" fill="#eef4fa"/>
<circle cx="107.20" cy="462.20" r="1.32" fill="#f0b81c"/>
<text x="107.20" y="458.70" font-size="3.6" fill="#e6ecf5" text-anchor="middle">21.0</text>
<circle cx="144.20" cy="464.10" r="2.4" fill="#eef4fa"/>
<circle cx="144.20" cy="464.10" r="1.32" fill="#f0b81c"/>
<text x="144.20" y="460.60" font-size="3.6" fill="#e6ecf5" text-anchor="middle">20.2</text>
<path d="M33.60,479.80 L70.60,485.10 L107.20,484.80 L144.20,488.50" fill="none" stroke="#5ec4ee" stroke-width="1.25" stroke-linejoin="round"/>
<circle cx="33.60" cy="479.80" r="2.4" fill="#eef4fa"/>
<circle cx="33.60" cy="479.80" r="1.32" fill="#34acd2"/>
<text x="33.60" y="476.30" font-size="3.6" fill="#e6ecf5" text-anchor="middle">12.8</text>
<circle cx="70.60" cy="485.10" r="2.4" fill="#eef4fa"/>
<circle cx="70.60" cy="485.10" r="1.32" fill="#34acd2"/>
<text x="70.60" y="481.60" font-size="3.6" fill="#e6ecf5" text-anchor="middle">10.2</text>
<circle cx="107.20" cy="484.80" r="2.4" fill="#eef4fa"/>
<circle cx="107.20" cy="484.80" r="1.32" fill="#34acd2"/>
<text x="107.20" y="481.30" font-size="3.6" fill="#e6ecf5" text-anchor="middle">10.4</text>
<circle cx="144.20" cy="488.50" r="2.4" fill="#eef4fa"/>
<circle cx="144.20" cy="488.50" r="1.32" fill="#34acd2"/>
<text x="144.20" y="485.00" font-size="3.6" fill="#e6ecf5" text-anchor="middle">8.8</text>
<circle cx="53.00" cy="503.80" r="2.3" fill="#5ec4ee"/>
<text x="56.90" y="505.35" font-size="4.3" fill="#b4c0d6" textLength="32.30" lengthAdjust="spacingAndGlyphs">Without Obesity</text>
<circle cx="95.30" cy="503.80" r="2.3" fill="#e9bd2b"/>
<text x="99.60" y="505.35" font-size="4.3" fill="#b4c0d6" textLength="24.70" lengthAdjust="spacingAndGlyphs">With obesity</text>
<rect x="187.7" y="410" width="170.8" height="100.5" rx="4.5" fill="#06346f"/>
<text x="191.90" y="420.60" font-size="5.6" fill="#cdd6e6" font-weight="bold" textLength="70.30" lengthAdjust="spacingAndGlyphs">Intermediate Risk Factors</text>
<text x="191.90" y="431.80" font-size="9.4" fill="#ffffff" font-weight="bold" textLength="106.30" lengthAdjust="spacingAndGlyphs">Hypercholesterolemia</text>
<text x="192.30" y="446.75" font-size="3.7" fill="#d0d9e8" font-weight="bold">26</text>
<text x="192.30" y="450.96" font-size="3.7" fill="#d0d9e8" font-weight="bold">24</text>
<text x="192.30" y="455.17" font-size="3.7" fill="#d0d9e8" font-weight="bold">22</text>
<text x="192.30" y="459.38" font-size="3.7" fill="#d0d9e8" font-weight="bold">20</text>
<text x="192.30" y="463.59" font-size="3.7" fill="#d0d9e8" font-weight="bold">18</text>
<text x="192.30" y="467.80" font-size="3.7" fill="#d0d9e8" font-weight="bold">16</text>
<text x="192.30" y="472.01" font-size="3.7" fill="#d0d9e8" font-weight="bold">14</text>
<text x="192.30" y="476.22" font-size="3.7" fill="#d0d9e8" font-weight="bold">12</text>
<text x="192.30" y="480.43" font-size="3.7" fill="#d0d9e8" font-weight="bold">10</text>
<text x="192.30" y="484.64" font-size="3.7" fill="#d0d9e8" font-weight="bold">8</text>
<text x="192.30" y="488.85" font-size="3.7" fill="#d0d9e8" font-weight="bold">6</text>
<line x1="198" y1="447.40" x2="350" y2="447.40" stroke="rgba(255,255,255,0.10)" stroke-width="0.6"/>
<line x1="198" y1="451.61" x2="350" y2="451.61" stroke="rgba(255,255,255,0.10)" stroke-width="0.6"/>
<line x1="198" y1="455.82" x2="350" y2="455.82" stroke="rgba(255,255,255,0.10)" stroke-width="0.6"/>
<line x1="198" y1="460.03" x2="350" y2="460.03" stroke="rgba(255,255,255,0.10)" stroke-width="0.6"/>
<line x1="198" y1="464.24" x2="350" y2="464.24" stroke="rgba(255,255,255,0.10)" stroke-width="0.6"/>
<line x1="198" y1="468.45" x2="350" y2="468.45" stroke="rgba(255,255,255,0.10)" stroke-width="0.6"/>
<line x1="198" y1="472.66" x2="350" y2="472.66" stroke="rgba(255,255,255,0.10)" stroke-width="0.6"/>
<line x1="198" y1="476.87" x2="350" y2="476.87" stroke="rgba(255,255,255,0.10)" stroke-width="0.6"/>
<line x1="198" y1="481.08" x2="350" y2="481.08" stroke="rgba(255,255,255,0.10)" stroke-width="0.6"/>
<line x1="198" y1="485.29" x2="350" y2="485.29" stroke="rgba(255,255,255,0.10)" stroke-width="0.6"/>
<line x1="198" y1="489.50" x2="350" y2="489.50" stroke="rgba(255,255,255,0.10)" stroke-width="0.6"/>
<text x="216.20" y="495.05" font-size="4.0" fill="#d0d9e8" font-weight="bold" text-anchor="middle">2020</text>
<text x="253.90" y="495.05" font-size="4.0" fill="#d0d9e8" font-weight="bold" text-anchor="middle">2021</text>
<text x="291.90" y="495.05" font-size="4.0" fill="#d0d9e8" font-weight="bold" text-anchor="middle">2022</text>
<text x="329.70" y="495.05" font-size="4.0" fill="#d0d9e8" font-weight="bold" text-anchor="middle">2023</text>
<path d="M216.20,450.20 L253.90,462.50 L291.90,462.00 L329.70,458.50" fill="none" stroke="#d2b234" stroke-width="1.25" stroke-linejoin="round"/>
<circle cx="216.20" cy="450.20" r="2.4" fill="#eef4fa"/>
<circle cx="216.20" cy="450.20" r="1.32" fill="#f0b81c"/>
<text x="216.20" y="446.70" font-size="3.6" fill="#e6ecf5" text-anchor="middle">25</text>
<circle cx="253.90" cy="462.50" r="2.4" fill="#eef4fa"/>
<circle cx="253.90" cy="462.50" r="1.32" fill="#f0b81c"/>
<text x="253.90" y="459.00" font-size="3.6" fill="#e6ecf5" text-anchor="middle">18.7</text>
<circle cx="291.90" cy="462.00" r="2.4" fill="#eef4fa"/>
<circle cx="291.90" cy="462.00" r="1.32" fill="#f0b81c"/>
<text x="291.90" y="458.50" font-size="3.6" fill="#e6ecf5" text-anchor="middle">20</text>
<circle cx="329.70" cy="458.50" r="2.4" fill="#eef4fa"/>
<circle cx="329.70" cy="458.50" r="1.32" fill="#f0b81c"/>
<text x="329.70" y="455.00" font-size="3.6" fill="#e6ecf5" text-anchor="middle">20.61</text>
<path d="M216.20,480.50 L253.90,485.70 L291.90,484.80 L329.70,483.00" fill="none" stroke="#5ec4ee" stroke-width="1.25" stroke-linejoin="round"/>
<circle cx="216.20" cy="480.50" r="2.4" fill="#eef4fa"/>
<circle cx="216.20" cy="480.50" r="1.32" fill="#34acd2"/>
<text x="216.20" y="477.00" font-size="3.6" fill="#e6ecf5" text-anchor="middle">10.9</text>
<circle cx="253.90" cy="485.70" r="2.4" fill="#eef4fa"/>
<circle cx="253.90" cy="485.70" r="1.32" fill="#34acd2"/>
<text x="253.90" y="482.20" font-size="3.6" fill="#e6ecf5" text-anchor="middle">9.5</text>
<circle cx="291.90" cy="484.80" r="2.4" fill="#eef4fa"/>
<circle cx="291.90" cy="484.80" r="1.32" fill="#34acd2"/>
<text x="291.90" y="481.30" font-size="3.6" fill="#e6ecf5" text-anchor="middle">9.9</text>
<circle cx="329.70" cy="483.00" r="2.4" fill="#eef4fa"/>
<circle cx="329.70" cy="483.00" r="1.32" fill="#34acd2"/>
<text x="329.70" y="479.50" font-size="3.6" fill="#e6ecf5" text-anchor="middle">10.7</text>
<circle cx="234.80" cy="503.80" r="2.3" fill="#5ec4ee"/>
<text x="239.20" y="505.35" font-size="4.3" fill="#b4c0d6" textLength="34.50" lengthAdjust="spacingAndGlyphs">Without Obesity</text>
<circle cx="279.90" cy="503.80" r="2.3" fill="#e9bd2b"/>
<text x="284.10" y="505.35" font-size="4.3" fill="#b4c0d6" textLength="26.40" lengthAdjust="spacingAndGlyphs">With obesity</text>
<rect x="372.1" y="410" width="170.8" height="100.5" rx="4.5" fill="#06346f"/>
<text x="376.60" y="420.60" font-size="5.6" fill="#cdd6e6" font-weight="bold" textLength="47.40" lengthAdjust="spacingAndGlyphs">Chronic Diseases</text>
<text x="376.60" y="431.80" font-size="9.4" fill="#ffffff" font-weight="bold" textLength="72.10" lengthAdjust="spacingAndGlyphs">Cardiovascular</text>
<text x="377.00" y="446.25" font-size="3.7" fill="#d0d9e8" font-weight="bold">9</text>
<text x="377.00" y="449.99" font-size="3.7" fill="#d0d9e8" font-weight="bold">8.5</text>
<text x="377.00" y="453.72" font-size="3.7" fill="#d0d9e8" font-weight="bold">8</text>
<text x="377.00" y="457.46" font-size="3.7" fill="#d0d9e8" font-weight="bold">7.5</text>
<text x="377.00" y="461.20" font-size="3.7" fill="#d0d9e8" font-weight="bold">7</text>
<text x="377.00" y="464.93" font-size="3.7" fill="#d0d9e8" font-weight="bold">6.5</text>
<text x="377.00" y="468.67" font-size="3.7" fill="#d0d9e8" font-weight="bold">6</text>
<text x="377.00" y="472.40" font-size="3.7" fill="#d0d9e8" font-weight="bold">5.5</text>
<text x="377.00" y="476.14" font-size="3.7" fill="#d0d9e8" font-weight="bold">5</text>
<text x="377.00" y="479.88" font-size="3.7" fill="#d0d9e8" font-weight="bold">4.5</text>
<text x="377.00" y="483.61" font-size="3.7" fill="#d0d9e8" font-weight="bold">4</text>
<text x="377.00" y="487.35" font-size="3.7" fill="#d0d9e8" font-weight="bold">3.5</text>
<line x1="384" y1="446.90" x2="536" y2="446.90" stroke="rgba(255,255,255,0.10)" stroke-width="0.6"/>
<line x1="384" y1="450.64" x2="536" y2="450.64" stroke="rgba(255,255,255,0.10)" stroke-width="0.6"/>
<line x1="384" y1="454.37" x2="536" y2="454.37" stroke="rgba(255,255,255,0.10)" stroke-width="0.6"/>
<line x1="384" y1="458.11" x2="536" y2="458.11" stroke="rgba(255,255,255,0.10)" stroke-width="0.6"/>
<line x1="384" y1="461.85" x2="536" y2="461.85" stroke="rgba(255,255,255,0.10)" stroke-width="0.6"/>
<line x1="384" y1="465.58" x2="536" y2="465.58" stroke="rgba(255,255,255,0.10)" stroke-width="0.6"/>
<line x1="384" y1="469.32" x2="536" y2="469.32" stroke="rgba(255,255,255,0.10)" stroke-width="0.6"/>
<line x1="384" y1="473.05" x2="536" y2="473.05" stroke="rgba(255,255,255,0.10)" stroke-width="0.6"/>
<line x1="384" y1="476.79" x2="536" y2="476.79" stroke="rgba(255,255,255,0.10)" stroke-width="0.6"/>
<line x1="384" y1="480.53" x2="536" y2="480.53" stroke="rgba(255,255,255,0.10)" stroke-width="0.6"/>
<line x1="384" y1="484.26" x2="536" y2="484.26" stroke="rgba(255,255,255,0.10)" stroke-width="0.6"/>
<line x1="384" y1="488.00" x2="536" y2="488.00" stroke="rgba(255,255,255,0.10)" stroke-width="0.6"/>
<text x="401.80" y="495.05" font-size="4.0" fill="#d0d9e8" font-weight="bold" text-anchor="middle">2020</text>
<text x="438.80" y="495.05" font-size="4.0" fill="#d0d9e8" font-weight="bold" text-anchor="middle">2021</text>
<text x="476.30" y="495.05" font-size="4.0" fill="#d0d9e8" font-weight="bold" text-anchor="middle">2022</text>
<text x="513.70" y="495.05" font-size="4.0" fill="#d0d9e8" font-weight="bold" text-anchor="middle">2023</text>
<path d="M401.80,452.00 L438.80,468.10 L476.30,464.70 L513.70,460.40" fill="none" stroke="#d2b234" stroke-width="1.25" stroke-linejoin="round"/>
<circle cx="401.80" cy="452.00" r="2.4" fill="#eef4fa"/>
<circle cx="401.80" cy="452.00" r="1.32" fill="#f0b81c"/>
<text x="401.80" y="448.50" font-size="3.6" fill="#e6ecf5" text-anchor="middle">8.4</text>
<circle cx="438.80" cy="468.10" r="2.4" fill="#eef4fa"/>
<circle cx="438.80" cy="468.10" r="1.32" fill="#f0b81c"/>
<text x="438.80" y="464.60" font-size="3.6" fill="#e6ecf5" text-anchor="middle">6.1</text>
<circle cx="476.30" cy="464.70" r="2.4" fill="#eef4fa"/>
<circle cx="476.30" cy="464.70" r="1.32" fill="#f0b81c"/>
<text x="476.30" y="461.20" font-size="3.6" fill="#e6ecf5" text-anchor="middle">6.7</text>
<circle cx="513.70" cy="460.40" r="2.4" fill="#eef4fa"/>
<circle cx="513.70" cy="460.40" r="1.32" fill="#f0b81c"/>
<text x="513.70" y="456.90" font-size="3.6" fill="#e6ecf5" text-anchor="middle">7.2</text>
<path d="M401.80,476.80 L438.80,485.70 L476.30,483.60 L513.70,484.50" fill="none" stroke="#5ec4ee" stroke-width="1.25" stroke-linejoin="round"/>
<circle cx="401.80" cy="476.80" r="2.4" fill="#eef4fa"/>
<circle cx="401.80" cy="476.80" r="1.32" fill="#34acd2"/>
<text x="401.80" y="473.30" font-size="3.6" fill="#e6ecf5" text-anchor="middle">5.1</text>
<circle cx="438.80" cy="485.70" r="2.4" fill="#eef4fa"/>
<circle cx="438.80" cy="485.70" r="1.32" fill="#34acd2"/>
<text x="438.80" y="482.20" font-size="3.6" fill="#e6ecf5" text-anchor="middle">3.9</text>
<circle cx="476.30" cy="483.60" r="2.4" fill="#eef4fa"/>
<circle cx="476.30" cy="483.60" r="1.32" fill="#34acd2"/>
<text x="476.30" y="480.10" font-size="3.6" fill="#e6ecf5" text-anchor="middle">4.2</text>
<circle cx="513.70" cy="484.50" r="2.4" fill="#eef4fa"/>
<circle cx="513.70" cy="484.50" r="1.32" fill="#34acd2"/>
<text x="513.70" y="481.00" font-size="3.6" fill="#e6ecf5" text-anchor="middle">4.1</text>
<circle cx="419.00" cy="503.60" r="2.3" fill="#5ec4ee"/>
<text x="423.50" y="505.15" font-size="4.3" fill="#b4c0d6" textLength="34.00" lengthAdjust="spacingAndGlyphs">Without Obesity</text>
<circle cx="463.90" cy="503.60" r="2.3" fill="#e9bd2b"/>
<text x="468.40" y="505.15" font-size="4.3" fill="#b4c0d6" textLength="26.20" lengthAdjust="spacingAndGlyphs">With obesity</text>
<rect x="4.6" y="522.2" width="170.6" height="100.5" rx="4.5" fill="#06346f"/>
<text x="9.70" y="532.90" font-size="5.6" fill="#cdd6e6" font-weight="bold" textLength="46.50" lengthAdjust="spacingAndGlyphs">Chronic Diseases</text>
<text x="9.70" y="545.30" font-size="9.4" fill="#ffffff" font-weight="bold" textLength="76.40" lengthAdjust="spacingAndGlyphs">Type 2 Diabetes</text>
<text x="9.60" y="559.35" font-size="3.7" fill="#d0d9e8" font-weight="bold">24</text>
<text x="9.60" y="564.55" font-size="3.7" fill="#d0d9e8" font-weight="bold">22</text>
<text x="9.60" y="569.75" font-size="3.7" fill="#d0d9e8" font-weight="bold">20</text>
<text x="9.60" y="574.95" font-size="3.7" fill="#d0d9e8" font-weight="bold">18</text>
<text x="9.60" y="580.15" font-size="3.7" fill="#d0d9e8" font-weight="bold">16</text>
<text x="9.60" y="585.35" font-size="3.7" fill="#d0d9e8" font-weight="bold">14</text>
<text x="9.60" y="590.55" font-size="3.7" fill="#d0d9e8" font-weight="bold">12</text>
<text x="9.60" y="595.75" font-size="3.7" fill="#d0d9e8" font-weight="bold">10</text>
<text x="9.60" y="600.95" font-size="3.7" fill="#d0d9e8" font-weight="bold">8</text>
<line x1="15" y1="560.00" x2="166" y2="560.00" stroke="rgba(255,255,255,0.10)" stroke-width="0.6"/>
<line x1="15" y1="565.20" x2="166" y2="565.20" stroke="rgba(255,255,255,0.10)" stroke-width="0.6"/>
<line x1="15" y1="570.40" x2="166" y2="570.40" stroke="rgba(255,255,255,0.10)" stroke-width="0.6"/>
<line x1="15" y1="575.60" x2="166" y2="575.60" stroke="rgba(255,255,255,0.10)" stroke-width="0.6"/>
<line x1="15" y1="580.80" x2="166" y2="580.80" stroke="rgba(255,255,255,0.10)" stroke-width="0.6"/>
<line x1="15" y1="586.00" x2="166" y2="586.00" stroke="rgba(255,255,255,0.10)" stroke-width="0.6"/>
<line x1="15" y1="591.20" x2="166" y2="591.20" stroke="rgba(255,255,255,0.10)" stroke-width="0.6"/>
<line x1="15" y1="596.40" x2="166" y2="596.40" stroke="rgba(255,255,255,0.10)" stroke-width="0.6"/>
<line x1="15" y1="601.60" x2="166" y2="601.60" stroke="rgba(255,255,255,0.10)" stroke-width="0.6"/>
<text x="33.30" y="607.35" font-size="4.0" fill="#d0d9e8" font-weight="bold" text-anchor="middle">2020</text>
<text x="71.20" y="607.35" font-size="4.0" fill="#d0d9e8" font-weight="bold" text-anchor="middle">2021</text>
<text x="109.10" y="607.35" font-size="4.0" fill="#d0d9e8" font-weight="bold" text-anchor="middle">2022</text>
<text x="147.20" y="607.35" font-size="4.0" fill="#d0d9e8" font-weight="bold" text-anchor="middle">2023</text>
<path d="M33.30,564.30 L71.20,573.90 L109.10,573.00 L147.20,573.90" fill="none" stroke="#d2b234" stroke-width="1.25" stroke-linejoin="round"/>
<circle cx="33.30" cy="564.30" r="2.4" fill="#eef4fa"/>
<circle cx="33.30" cy="564.30" r="1.32" fill="#f0b81c"/>
<text x="33.30" y="560.80" font-size="3.6" fill="#e6ecf5" text-anchor="middle">22.5</text>
<circle cx="71.20" cy="573.90" r="2.4" fill="#eef4fa"/>
<circle cx="71.20" cy="573.90" r="1.32" fill="#f0b81c"/>
<text x="71.20" y="570.40" font-size="3.6" fill="#e6ecf5" text-anchor="middle">18.8</text>
<circle cx="109.10" cy="573.00" r="2.4" fill="#eef4fa"/>
<circle cx="109.10" cy="573.00" r="1.32" fill="#f0b81c"/>
<text x="109.10" y="569.50" font-size="3.6" fill="#e6ecf5" text-anchor="middle">19.2</text>
<circle cx="147.20" cy="573.90" r="2.4" fill="#eef4fa"/>
<circle cx="147.20" cy="573.90" r="1.32" fill="#f0b81c"/>
<text x="147.20" y="570.40" font-size="3.6" fill="#e6ecf5" text-anchor="middle">18.8</text>
<path d="M33.30,589.40 L71.20,597.70 L109.10,597.10 L147.20,596.20" fill="none" stroke="#5ec4ee" stroke-width="1.25" stroke-linejoin="round"/>
<circle cx="33.30" cy="589.40" r="2.4" fill="#eef4fa"/>
<circle cx="33.30" cy="589.40" r="1.32" fill="#34acd2"/>
<text x="33.30" y="585.90" font-size="3.6" fill="#e6ecf5" text-anchor="middle">12.9</text>
<circle cx="71.20" cy="597.70" r="2.4" fill="#eef4fa"/>
<circle cx="71.20" cy="597.70" r="1.32" fill="#34acd2"/>
<text x="71.20" y="594.20" font-size="3.6" fill="#e6ecf5" text-anchor="middle">9.6</text>
<circle cx="109.10" cy="597.10" r="2.4" fill="#eef4fa"/>
<circle cx="109.10" cy="597.10" r="1.32" fill="#34acd2"/>
<text x="109.10" y="593.60" font-size="3.6" fill="#e6ecf5" text-anchor="middle">9.8</text>
<circle cx="147.20" cy="596.20" r="2.4" fill="#eef4fa"/>
<circle cx="147.20" cy="596.20" r="1.32" fill="#34acd2"/>
<text x="147.20" y="592.70" font-size="3.6" fill="#e6ecf5" text-anchor="middle">10.2</text>
<circle cx="51.70" cy="616.20" r="2.3" fill="#5ec4ee"/>
<text x="56.40" y="617.75" font-size="4.3" fill="#b4c0d6" textLength="34.60" lengthAdjust="spacingAndGlyphs">Without Obesity</text>
<circle cx="97.00" cy="616.20" r="2.3" fill="#e9bd2b"/>
<text x="101.30" y="617.75" font-size="4.3" fill="#b4c0d6" textLength="25.90" lengthAdjust="spacingAndGlyphs">With obesity</text>
<rect x="187.9" y="522.2" width="170.8" height="100.5" rx="4.5" fill="#06346f"/>
<text x="192.60" y="532.90" font-size="5.6" fill="#cdd6e6" font-weight="bold" textLength="46.40" lengthAdjust="spacingAndGlyphs">Chronic Diseases</text>
<text x="192.60" y="545.30" font-size="9.4" fill="#ffffff" font-weight="bold" textLength="30.90" lengthAdjust="spacingAndGlyphs">Stroke</text>
<text x="193.00" y="550.55" font-size="3.7" fill="#d0d9e8" font-weight="bold">3.2</text>
<text x="193.00" y="555.10" font-size="3.7" fill="#d0d9e8" font-weight="bold">3</text>
<text x="193.00" y="559.66" font-size="3.7" fill="#d0d9e8" font-weight="bold">2.8</text>
<text x="193.00" y="564.21" font-size="3.7" fill="#d0d9e8" font-weight="bold">2.6</text>
<text x="193.00" y="568.77" font-size="3.7" fill="#d0d9e8" font-weight="bold">2.4</text>
<text x="193.00" y="573.32" font-size="3.7" fill="#d0d9e8" font-weight="bold">2.2</text>
<text x="193.00" y="577.88" font-size="3.7" fill="#d0d9e8" font-weight="bold">2</text>
<text x="193.00" y="582.43" font-size="3.7" fill="#d0d9e8" font-weight="bold">1.8</text>
<text x="193.00" y="586.99" font-size="3.7" fill="#d0d9e8" font-weight="bold">1.6</text>
<text x="193.00" y="591.54" font-size="3.7" fill="#d0d9e8" font-weight="bold">1.4</text>
<text x="193.00" y="596.10" font-size="3.7" fill="#d0d9e8" font-weight="bold">1.2</text>
<text x="193.00" y="600.65" font-size="3.7" fill="#d0d9e8" font-weight="bold">1</text>
<line x1="200" y1="551.20" x2="350" y2="551.20" stroke="rgba(255,255,255,0.10)" stroke-width="0.6"/>
<line x1="200" y1="555.75" x2="350" y2="555.75" stroke="rgba(255,255,255,0.10)" stroke-width="0.6"/>
<line x1="200" y1="560.31" x2="350" y2="560.31" stroke="rgba(255,255,255,0.10)" stroke-width="0.6"/>
<line x1="200" y1="564.86" x2="350" y2="564.86" stroke="rgba(255,255,255,0.10)" stroke-width="0.6"/>
<line x1="200" y1="569.42" x2="350" y2="569.42" stroke="rgba(255,255,255,0.10)" stroke-width="0.6"/>
<line x1="200" y1="573.97" x2="350" y2="573.97" stroke="rgba(255,255,255,0.10)" stroke-width="0.6"/>
<line x1="200" y1="578.53" x2="350" y2="578.53" stroke="rgba(255,255,255,0.10)" stroke-width="0.6"/>
<line x1="200" y1="583.08" x2="350" y2="583.08" stroke="rgba(255,255,255,0.10)" stroke-width="0.6"/>
<line x1="200" y1="587.64" x2="350" y2="587.64" stroke="rgba(255,255,255,0.10)" stroke-width="0.6"/>
<line x1="200" y1="592.19" x2="350" y2="592.19" stroke="rgba(255,255,255,0.10)" stroke-width="0.6"/>
<line x1="200" y1="596.75" x2="350" y2="596.75" stroke="rgba(255,255,255,0.10)" stroke-width="0.6"/>
<line x1="200" y1="601.30" x2="350" y2="601.30" stroke="rgba(255,255,255,0.10)" stroke-width="0.6"/>
<text x="219.40" y="607.35" font-size="4.0" fill="#d0d9e8" font-weight="bold" text-anchor="middle">2020</text>
<text x="256.00" y="607.35" font-size="4.0" fill="#d0d9e8" font-weight="bold" text-anchor="middle">2021</text>
<text x="293.10" y="607.35" font-size="4.0" fill="#d0d9e8" font-weight="bold" text-anchor="middle">2022</text>
<text x="329.50" y="607.35" font-size="4.0" fill="#d0d9e8" font-weight="bold" text-anchor="middle">2023</text>
<path d="M219.40,556.60 L256.00,590.60 L293.10,579.20 L329.50,577.00" fill="none" stroke="#d2b234" stroke-width="1.25" stroke-linejoin="round"/>
<circle cx="219.40" cy="556.60" r="2.4" fill="#eef4fa"/>
<circle cx="219.40" cy="556.60" r="1.32" fill="#f0b81c"/>
<text x="219.40" y="553.10" font-size="3.6" fill="#e6ecf5" text-anchor="middle">3.0</text>
<circle cx="256.00" cy="590.60" r="2.4" fill="#eef4fa"/>
<circle cx="256.00" cy="590.60" r="1.32" fill="#f0b81c"/>
<text x="256.00" y="587.10" font-size="3.6" fill="#e6ecf5" text-anchor="middle">1.5</text>
<circle cx="293.10" cy="579.20" r="2.4" fill="#eef4fa"/>
<circle cx="293.10" cy="579.20" r="1.32" fill="#f0b81c"/>
<text x="293.10" y="575.70" font-size="3.6" fill="#e6ecf5" text-anchor="middle">2.0</text>
<circle cx="329.50" cy="577.00" r="2.4" fill="#eef4fa"/>
<circle cx="329.50" cy="577.00" r="1.32" fill="#f0b81c"/>
<text x="329.50" y="573.50" font-size="3.6" fill="#e6ecf5" text-anchor="middle">2.1</text>
<path d="M219.40,577.00 L256.00,599.30 L293.10,587.80 L329.50,586.00" fill="none" stroke="#5ec4ee" stroke-width="1.25" stroke-linejoin="round"/>
<circle cx="219.40" cy="577.00" r="2.4" fill="#eef4fa"/>
<circle cx="219.40" cy="577.00" r="1.32" fill="#34acd2"/>
<text x="219.40" y="573.50" font-size="3.6" fill="#e6ecf5" text-anchor="middle">2.1</text>
<circle cx="256.00" cy="599.30" r="2.4" fill="#eef4fa"/>
<circle cx="256.00" cy="599.30" r="1.32" fill="#34acd2"/>
<text x="256.00" y="595.80" font-size="3.6" fill="#e6ecf5" text-anchor="middle">1.1</text>
<circle cx="293.10" cy="587.80" r="2.4" fill="#eef4fa"/>
<circle cx="293.10" cy="587.80" r="1.32" fill="#34acd2"/>
<text x="293.10" y="584.30" font-size="3.6" fill="#e6ecf5" text-anchor="middle">1.6</text>
<circle cx="329.50" cy="586.00" r="2.4" fill="#eef4fa"/>
<circle cx="329.50" cy="586.00" r="1.32" fill="#34acd2"/>
<text x="329.50" y="582.50" font-size="3.6" fill="#e6ecf5" text-anchor="middle">1.7</text>
<circle cx="237.40" cy="615.90" r="2.3" fill="#5ec4ee"/>
<text x="241.80" y="617.45" font-size="4.3" fill="#b4c0d6" textLength="34.20" lengthAdjust="spacingAndGlyphs">Without Obesity</text>
<circle cx="278.90" cy="615.90" r="2.3" fill="#e9bd2b"/>
<text x="283.40" y="617.45" font-size="4.3" fill="#b4c0d6" textLength="26.20" lengthAdjust="spacingAndGlyphs">With obesity</text>
<rect x="372.6" y="522.2" width="167.2" height="100.5" rx="4.5" fill="#06346f"/>
<text x="376.60" y="532.90" font-size="5.6" fill="#cdd6e6" font-weight="bold" textLength="46.40" lengthAdjust="spacingAndGlyphs">Chronic Diseases</text>
<text x="376.60" y="545.30" font-size="9.4" fill="#ffffff" font-weight="bold" textLength="96.80" lengthAdjust="spacingAndGlyphs">Respiratory Disease</text>
<text x="377.00" y="558.85" font-size="3.7" fill="#d0d9e8" font-weight="bold">12</text>
<text x="377.00" y="562.33" font-size="3.7" fill="#d0d9e8" font-weight="bold">11.5</text>
<text x="377.00" y="565.82" font-size="3.7" fill="#d0d9e8" font-weight="bold">11</text>
<text x="377.00" y="569.30" font-size="3.7" fill="#d0d9e8" font-weight="bold">10.5</text>
<text x="377.00" y="572.78" font-size="3.7" fill="#d0d9e8" font-weight="bold">10</text>
<text x="377.00" y="576.27" font-size="3.7" fill="#d0d9e8" font-weight="bold">9.5</text>
<text x="377.00" y="579.75" font-size="3.7" fill="#d0d9e8" font-weight="bold">9</text>
<text x="377.00" y="583.23" font-size="3.7" fill="#d0d9e8" font-weight="bold">8.5</text>
<text x="377.00" y="586.72" font-size="3.7" fill="#d0d9e8" font-weight="bold">8</text>
<text x="377.00" y="590.20" font-size="3.7" fill="#d0d9e8" font-weight="bold">7.5</text>
<text x="377.00" y="593.68" font-size="3.7" fill="#d0d9e8" font-weight="bold">7</text>
<text x="377.00" y="597.17" font-size="3.7" fill="#d0d9e8" font-weight="bold">6.5</text>
<text x="377.00" y="600.65" font-size="3.7" fill="#d0d9e8" font-weight="bold">6</text>
<line x1="385" y1="559.50" x2="528" y2="559.50" stroke="rgba(255,255,255,0.10)" stroke-width="0.6"/>
<line x1="385" y1="562.98" x2="528" y2="562.98" stroke="rgba(255,255,255,0.10)" stroke-width="0.6"/>
<line x1="385" y1="566.47" x2="528" y2="566.47" stroke="rgba(255,255,255,0.10)" stroke-width="0.6"/>
<line x1="385" y1="569.95" x2="528" y2="569.95" stroke="rgba(255,255,255,0.10)" stroke-width="0.6"/>
<line x1="385" y1="573.43" x2="528" y2="573.43" stroke="rgba(255,255,255,0.10)" stroke-width="0.6"/>
<line x1="385" y1="576.92" x2="528" y2="576.92" stroke="rgba(255,255,255,0.10)" stroke-width="0.6"/>
<line x1="385" y1="580.40" x2="528" y2="580.40" stroke="rgba(255,255,255,0.10)" stroke-width="0.6"/>
<line x1="385" y1="583.88" x2="528" y2="583.88" stroke="rgba(255,255,255,0.10)" stroke-width="0.6"/>
<line x1="385" y1="587.37" x2="528" y2="587.37" stroke="rgba(255,255,255,0.10)" stroke-width="0.6"/>
<line x1="385" y1="590.85" x2="528" y2="590.85" stroke="rgba(255,255,255,0.10)" stroke-width="0.6"/>
<line x1="385" y1="594.33" x2="528" y2="594.33" stroke="rgba(255,255,255,0.10)" stroke-width="0.6"/>
<line x1="385" y1="597.82" x2="528" y2="597.82" stroke="rgba(255,255,255,0.10)" stroke-width="0.6"/>
<line x1="385" y1="601.30" x2="528" y2="601.30" stroke="rgba(255,255,255,0.10)" stroke-width="0.6"/>
<text x="403.40" y="607.35" font-size="4.0" fill="#d0d9e8" font-weight="bold" text-anchor="middle">2020</text>
<text x="438.80" y="607.35" font-size="4.0" fill="#d0d9e8" font-weight="bold" text-anchor="middle">2021</text>
<text x="474.80" y="607.35" font-size="4.0" fill="#d0d9e8" font-weight="bold" text-anchor="middle">2022</text>
<text x="510.60" y="607.35" font-size="4.0" fill="#d0d9e8" font-weight="bold" text-anchor="middle">2023</text>
<path d="M403.40,564.70 L438.80,581.70 L474.80,580.10 L510.60,578.00" fill="none" stroke="#d2b234" stroke-width="1.25" stroke-linejoin="round"/>
<circle cx="403.40" cy="564.70" r="2.4" fill="#eef4fa"/>
<circle cx="403.40" cy="564.70" r="1.32" fill="#f0b81c"/>
<text x="403.40" y="561.20" font-size="3.6" fill="#e6ecf5" text-anchor="middle">11.6</text>
<circle cx="438.80" cy="581.70" r="2.4" fill="#eef4fa"/>
<circle cx="438.80" cy="581.70" r="1.32" fill="#f0b81c"/>
<text x="438.80" y="578.20" font-size="3.6" fill="#e6ecf5" text-anchor="middle">8.9</text>
<circle cx="474.80" cy="580.10" r="2.4" fill="#eef4fa"/>
<circle cx="474.80" cy="580.10" r="1.32" fill="#f0b81c"/>
<text x="474.80" y="576.60" font-size="3.6" fill="#e6ecf5" text-anchor="middle">9.1</text>
<circle cx="510.60" cy="578.00" r="2.4" fill="#eef4fa"/>
<circle cx="510.60" cy="578.00" r="1.32" fill="#f0b81c"/>
<text x="510.60" y="574.50" font-size="3.6" fill="#e6ecf5" text-anchor="middle">9.4</text>
<path d="M403.40,583.80 L438.80,598.00 L474.80,595.30 L510.60,596.80" fill="none" stroke="#5ec4ee" stroke-width="1.25" stroke-linejoin="round"/>
<circle cx="403.40" cy="583.80" r="2.4" fill="#eef4fa"/>
<circle cx="403.40" cy="583.80" r="1.32" fill="#34acd2"/>
<text x="403.40" y="580.30" font-size="3.6" fill="#e6ecf5" text-anchor="middle">8.6</text>
<circle cx="438.80" cy="598.00" r="2.4" fill="#eef4fa"/>
<circle cx="438.80" cy="598.00" r="1.32" fill="#34acd2"/>
<text x="438.80" y="594.50" font-size="3.6" fill="#e6ecf5" text-anchor="middle">6.5</text>
<circle cx="474.80" cy="595.30" r="2.4" fill="#eef4fa"/>
<circle cx="474.80" cy="595.30" r="1.32" fill="#34acd2"/>
<text x="474.80" y="591.80" font-size="3.6" fill="#e6ecf5" text-anchor="middle">7.0</text>
<circle cx="510.60" cy="596.80" r="2.4" fill="#eef4fa"/>
<circle cx="510.60" cy="596.80" r="1.32" fill="#34acd2"/>
<text x="510.60" y="593.30" font-size="3.6" fill="#e6ecf5" text-anchor="middle">6.7</text>
<circle cx="416.70" cy="615.90" r="2.3" fill="#5ec4ee"/>
<text x="421.40" y="617.45" font-size="4.3" fill="#b4c0d6" textLength="34.60" lengthAdjust="spacingAndGlyphs">Without Obesity</text>
<circle cx="462.30" cy="615.90" r="2.3" fill="#e9bd2b"/>
<text x="466.30" y="617.45" font-size="4.3" fill="#b4c0d6" textLength="25.90" lengthAdjust="spacingAndGlyphs">With obesity</text>
<rect x="4.6" y="635.9" width="171.2" height="100.6" rx="4.5" fill="#06346f"/>
<text x="9.70" y="646.60" font-size="5.6" fill="#cdd6e6" font-weight="bold" textLength="46.50" lengthAdjust="spacingAndGlyphs">Chronic Diseases</text>
<text x="9.70" y="659.60" font-size="9.4" fill="#ffffff" font-weight="bold" textLength="33.40" lengthAdjust="spacingAndGlyphs">Cancer</text>
<text x="9.60" y="672.25" font-size="3.7" fill="#d0d9e8" font-weight="bold">2.8</text>
<text x="9.60" y="677.48" font-size="3.7" fill="#d0d9e8" font-weight="bold">2.6</text>
<text x="9.60" y="682.70" font-size="3.7" fill="#d0d9e8" font-weight="bold">2.4</text>
<text x="9.60" y="687.93" font-size="3.7" fill="#d0d9e8" font-weight="bold">2.2</text>
<text x="9.60" y="693.15" font-size="3.7" fill="#d0d9e8" font-weight="bold">2</text>
<text x="9.60" y="698.38" font-size="3.7" fill="#d0d9e8" font-weight="bold">1.8</text>
<text x="9.60" y="703.60" font-size="3.7" fill="#d0d9e8" font-weight="bold">1.6</text>
<text x="9.60" y="708.83" font-size="3.7" fill="#d0d9e8" font-weight="bold">1.4</text>
<text x="9.60" y="714.05" font-size="3.7" fill="#d0d9e8" font-weight="bold">1.2</text>
<line x1="16" y1="672.90" x2="164" y2="672.90" stroke="rgba(255,255,255,0.10)" stroke-width="0.6"/>
<line x1="16" y1="678.12" x2="164" y2="678.12" stroke="rgba(255,255,255,0.10)" stroke-width="0.6"/>
<line x1="16" y1="683.35" x2="164" y2="683.35" stroke="rgba(255,255,255,0.10)" stroke-width="0.6"/>
<line x1="16" y1="688.58" x2="164" y2="688.58" stroke="rgba(255,255,255,0.10)" stroke-width="0.6"/>
<line x1="16" y1="693.80" x2="164" y2="693.80" stroke="rgba(255,255,255,0.10)" stroke-width="0.6"/>
<line x1="16" y1="699.02" x2="164" y2="699.02" stroke="rgba(255,255,255,0.10)" stroke-width="0.6"/>
<line x1="16" y1="704.25" x2="164" y2="704.25" stroke="rgba(255,255,255,0.10)" stroke-width="0.6"/>
<line x1="16" y1="709.48" x2="164" y2="709.48" stroke="rgba(255,255,255,0.10)" stroke-width="0.6"/>
<line x1="16" y1="714.70" x2="164" y2="714.70" stroke="rgba(255,255,255,0.10)" stroke-width="0.6"/>
<text x="34.30" y="720.95" font-size="4.0" fill="#d0d9e8" font-weight="bold" text-anchor="middle">2020</text>
<text x="71.30" y="720.95" font-size="4.0" fill="#d0d9e8" font-weight="bold" text-anchor="middle">2021</text>
<text x="108.40" y="720.95" font-size="4.0" fill="#d0d9e8" font-weight="bold" text-anchor="middle">2022</text>
<text x="145.40" y="720.95" font-size="4.0" fill="#d0d9e8" font-weight="bold" text-anchor="middle">2023</text>
<path d="M34.30,679.30 L71.30,707.10 L108.40,686.40 L145.40,694.10" fill="none" stroke="#d2b234" stroke-width="1.25" stroke-linejoin="round"/>
<circle cx="34.30" cy="679.30" r="2.4" fill="#eef4fa"/>
<circle cx="34.30" cy="679.30" r="1.32" fill="#f0b81c"/>
<text x="34.30" y="675.80" font-size="3.6" fill="#e6ecf5" text-anchor="middle">2.5</text>
<circle cx="71.30" cy="707.10" r="2.4" fill="#eef4fa"/>
<circle cx="71.30" cy="707.10" r="1.32" fill="#f0b81c"/>
<text x="71.30" y="703.60" font-size="3.6" fill="#e6ecf5" text-anchor="middle">1.5</text>
<circle cx="108.40" cy="686.40" r="2.4" fill="#eef4fa"/>
<circle cx="108.40" cy="686.40" r="1.32" fill="#f0b81c"/>
<text x="108.40" y="682.90" font-size="3.6" fill="#e6ecf5" text-anchor="middle">2.3</text>
<circle cx="145.40" cy="694.10" r="2.4" fill="#eef4fa"/>
<circle cx="145.40" cy="694.10" r="1.32" fill="#f0b81c"/>
<text x="145.40" y="690.60" font-size="3.6" fill="#e6ecf5" text-anchor="middle">2.0</text>
<path d="M34.30,697.20 L71.30,712.00 L108.40,702.50 L145.40,702.50" fill="none" stroke="#5ec4ee" stroke-width="1.25" stroke-linejoin="round"/>
<circle cx="34.30" cy="697.20" r="2.4" fill="#eef4fa"/>
<circle cx="34.30" cy="697.20" r="1.32" fill="#34acd2"/>
<text x="34.30" y="693.70" font-size="3.6" fill="#e6ecf5" text-anchor="middle">1.8</text>
<circle cx="71.30" cy="712.00" r="2.4" fill="#eef4fa"/>
<circle cx="71.30" cy="712.00" r="1.32" fill="#34acd2"/>
<text x="71.30" y="708.50" font-size="3.6" fill="#e6ecf5" text-anchor="middle">1.3</text>
<circle cx="108.40" cy="702.50" r="2.4" fill="#eef4fa"/>
<circle cx="108.40" cy="702.50" r="1.32" fill="#34acd2"/>
<text x="108.40" y="699.00" font-size="3.6" fill="#e6ecf5" text-anchor="middle">1.7</text>
<circle cx="145.40" cy="702.50" r="2.4" fill="#eef4fa"/>
<circle cx="145.40" cy="702.50" r="1.32" fill="#34acd2"/>
<text x="145.40" y="699.00" font-size="3.6" fill="#e6ecf5" text-anchor="middle">1.7</text>
<circle cx="51.20" cy="729.30" r="2.3" fill="#5ec4ee"/>
<text x="55.50" y="730.85" font-size="4.3" fill="#b4c0d6" textLength="34.60" lengthAdjust="spacingAndGlyphs">Without Obesity</text>
<circle cx="95.60" cy="729.30" r="2.3" fill="#e9bd2b"/>
<text x="100.10" y="730.85" font-size="4.3" fill="#b4c0d6" textLength="26.30" lengthAdjust="spacingAndGlyphs">With obesity</text>
</svg>
</body></html>
